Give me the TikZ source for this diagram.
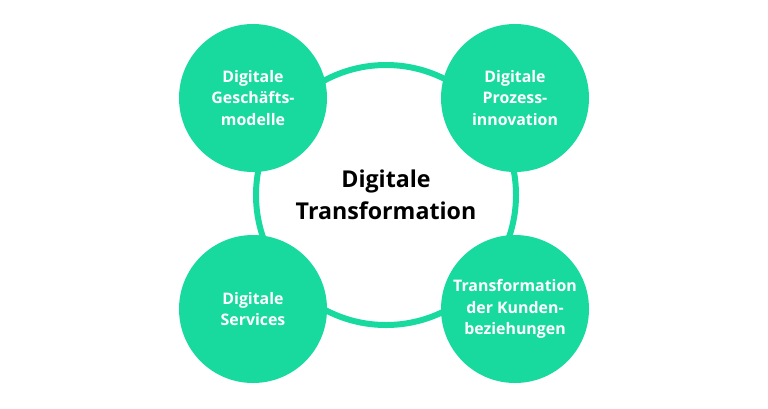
\documentclass[tikz,border=0pt]{standalone}
\usepackage{fontspec}
\setmainfont{Open Sans}
\usetikzlibrary{positioning}
\definecolor{dtgreen}{RGB}{24,218,158}
\tikzset{
  bubble/.style={circle, fill=dtgreen, minimum size=148pt, inner sep=0pt,
    align=center, text=white, font=\fontsize{15.9}{21.8}\selectfont\bfseries},
  ring/.style={circle, draw=dtgreen, line width=6pt, minimum size=260pt, inner sep=0pt,
    align=center, font=\fontsize{23.2}{32.5}\selectfont\bfseries}
}

\begin{document}
\begin{tikzpicture}[x=1pt, y=-1pt]
  \useasboundingbox (0,0) rectangle (768,408);
  \node[ring] (dt) at (386,195) {Digitale\\Transformation};
  \node[bubble] (gm) at (253,98) {Digitale\\Geschäfts-\\modelle};
  \node[bubble] (pi) at (515,98) {Digitale\\Prozess-\\innovation};
  \node[bubble] (ds) at (253,309) {Digitale\\Services};
  \node[bubble] (kb) at (515,309) {Transformation\\der Kunden-\\beziehungen};
\end{tikzpicture}
\end{document}
